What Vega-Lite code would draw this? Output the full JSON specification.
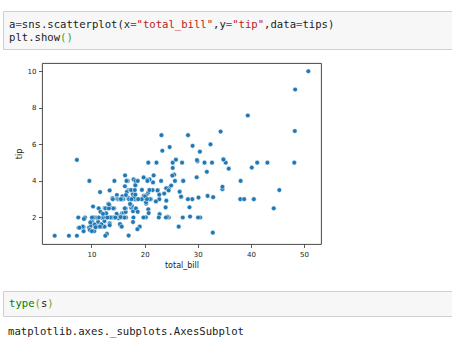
{
  "$schema": "https://vega.github.io/schema/vega-lite/v6.json",
  "background": "white",
  "padding": {"left": 2, "top": 10, "right": 0, "bottom": 0},
  "config": {
    "font": "DejaVu Sans",
    "axis": {
      "domain": false, "grid": false, "tickColor": "#333333", "tickSize": 3.5, "tickWidth": 0.8,
      "labelFont": "DejaVu Sans", "labelFontSize": 7, "labelColor": "#222222", "labelPadding": 2.5,
      "titleFont": "DejaVu Sans", "titleFontSize": 8, "titleFontWeight": "normal", "titleColor": "#222222"
    }
  },
  "datasets": {
    "tips": [
      {"total_bill":16.99,"tip":1.01},{"total_bill":10.34,"tip":1.66},{"total_bill":21.01,"tip":3.5},{"total_bill":23.68,"tip":3.31},{"total_bill":24.59,"tip":3.61},
      {"total_bill":25.29,"tip":4.71},{"total_bill":8.77,"tip":2.0},{"total_bill":26.88,"tip":3.12},{"total_bill":15.04,"tip":1.96},{"total_bill":14.78,"tip":3.23},
      {"total_bill":10.27,"tip":1.71},{"total_bill":35.26,"tip":5.0},{"total_bill":15.42,"tip":1.57},{"total_bill":18.43,"tip":3.0},{"total_bill":14.83,"tip":3.02},
      {"total_bill":21.58,"tip":3.92},{"total_bill":10.33,"tip":1.67},{"total_bill":16.29,"tip":3.71},{"total_bill":16.97,"tip":3.5},{"total_bill":20.65,"tip":3.35},
      {"total_bill":17.92,"tip":4.08},{"total_bill":20.29,"tip":2.75},{"total_bill":15.77,"tip":2.23},{"total_bill":39.42,"tip":7.58},{"total_bill":19.82,"tip":3.18},
      {"total_bill":17.81,"tip":2.34},{"total_bill":13.37,"tip":2.0},{"total_bill":12.69,"tip":2.0},{"total_bill":21.7,"tip":4.3},{"total_bill":19.65,"tip":3.0},
      {"total_bill":9.55,"tip":1.45},{"total_bill":18.35,"tip":2.5},{"total_bill":15.06,"tip":3.0},{"total_bill":20.69,"tip":2.45},{"total_bill":17.78,"tip":3.27},
      {"total_bill":24.06,"tip":3.6},{"total_bill":16.31,"tip":2.0},{"total_bill":16.93,"tip":3.07},{"total_bill":18.69,"tip":2.31},{"total_bill":31.27,"tip":5.0},
      {"total_bill":16.04,"tip":2.24},{"total_bill":17.46,"tip":2.54},{"total_bill":13.94,"tip":3.06},{"total_bill":9.68,"tip":1.32},{"total_bill":30.4,"tip":5.6},
      {"total_bill":18.29,"tip":3.0},{"total_bill":22.23,"tip":5.0},{"total_bill":32.4,"tip":6.0},{"total_bill":28.55,"tip":2.05},{"total_bill":18.04,"tip":3.0},
      {"total_bill":12.54,"tip":2.5},{"total_bill":10.29,"tip":2.6},{"total_bill":34.81,"tip":5.2},{"total_bill":9.94,"tip":1.56},{"total_bill":25.56,"tip":4.34},
      {"total_bill":19.49,"tip":3.51},{"total_bill":38.01,"tip":3.0},{"total_bill":26.41,"tip":1.5},{"total_bill":11.24,"tip":1.76},{"total_bill":48.27,"tip":6.73},
      {"total_bill":20.29,"tip":3.21},{"total_bill":13.81,"tip":2.0},{"total_bill":11.02,"tip":1.98},{"total_bill":18.29,"tip":3.76},{"total_bill":17.59,"tip":2.64},
      {"total_bill":20.08,"tip":3.15},{"total_bill":16.45,"tip":2.47},{"total_bill":3.07,"tip":1.0},{"total_bill":20.23,"tip":2.01},{"total_bill":15.01,"tip":2.09},
      {"total_bill":12.02,"tip":1.97},{"total_bill":17.07,"tip":3.0},{"total_bill":26.86,"tip":3.14},{"total_bill":25.28,"tip":5.0},{"total_bill":14.73,"tip":2.2},
      {"total_bill":10.51,"tip":1.25},{"total_bill":17.92,"tip":3.08},{"total_bill":27.2,"tip":4.0},{"total_bill":22.76,"tip":3.0},{"total_bill":17.29,"tip":2.71},
      {"total_bill":19.44,"tip":3.0},{"total_bill":16.66,"tip":3.4},{"total_bill":10.07,"tip":1.83},{"total_bill":32.68,"tip":5.0},{"total_bill":15.98,"tip":2.03},
      {"total_bill":34.83,"tip":5.17},{"total_bill":13.03,"tip":2.0},{"total_bill":18.28,"tip":4.0},{"total_bill":24.71,"tip":5.85},{"total_bill":21.16,"tip":3.0},
      {"total_bill":28.97,"tip":3.0},{"total_bill":22.49,"tip":3.5},{"total_bill":5.75,"tip":1.0},{"total_bill":16.32,"tip":4.3},{"total_bill":22.75,"tip":3.25},
      {"total_bill":40.17,"tip":4.73},{"total_bill":27.28,"tip":4.0},{"total_bill":12.03,"tip":1.5},{"total_bill":21.01,"tip":3.0},{"total_bill":12.46,"tip":1.5},
      {"total_bill":11.35,"tip":2.5},{"total_bill":15.38,"tip":3.0},{"total_bill":44.3,"tip":2.5},{"total_bill":22.42,"tip":3.48},{"total_bill":20.92,"tip":4.08},
      {"total_bill":15.36,"tip":1.64},{"total_bill":20.49,"tip":4.06},{"total_bill":25.21,"tip":4.29},{"total_bill":18.24,"tip":3.76},{"total_bill":14.31,"tip":4.0},
      {"total_bill":14.0,"tip":3.0},{"total_bill":7.25,"tip":1.0},{"total_bill":38.07,"tip":4.0},{"total_bill":23.95,"tip":2.55},{"total_bill":25.71,"tip":4.0},
      {"total_bill":17.31,"tip":3.5},{"total_bill":29.93,"tip":5.07},{"total_bill":10.65,"tip":1.5},{"total_bill":12.43,"tip":1.8},{"total_bill":24.08,"tip":2.92},
      {"total_bill":11.69,"tip":2.31},{"total_bill":13.42,"tip":1.68},{"total_bill":14.26,"tip":2.5},{"total_bill":15.95,"tip":2.0},{"total_bill":12.48,"tip":2.52},
      {"total_bill":29.8,"tip":4.2},{"total_bill":8.52,"tip":1.48},{"total_bill":14.52,"tip":2.0},{"total_bill":11.38,"tip":2.0},{"total_bill":22.82,"tip":2.18},
      {"total_bill":19.08,"tip":1.5},{"total_bill":20.27,"tip":2.83},{"total_bill":11.17,"tip":1.5},{"total_bill":12.26,"tip":2.0},{"total_bill":18.26,"tip":3.25},
      {"total_bill":8.51,"tip":1.25},{"total_bill":10.33,"tip":2.0},{"total_bill":14.15,"tip":2.0},{"total_bill":16.0,"tip":2.0},{"total_bill":13.16,"tip":2.75},
      {"total_bill":17.47,"tip":3.5},{"total_bill":34.3,"tip":6.7},{"total_bill":41.19,"tip":5.0},{"total_bill":27.05,"tip":5.0},{"total_bill":16.43,"tip":2.3},
      {"total_bill":8.35,"tip":1.5},{"total_bill":18.64,"tip":1.36},{"total_bill":11.87,"tip":1.63},{"total_bill":9.78,"tip":1.73},{"total_bill":7.51,"tip":2.0},
      {"total_bill":14.07,"tip":2.5},{"total_bill":13.13,"tip":2.0},{"total_bill":17.26,"tip":2.74},{"total_bill":24.55,"tip":2.0},{"total_bill":19.77,"tip":2.0},
      {"total_bill":29.85,"tip":5.14},{"total_bill":48.17,"tip":5.0},{"total_bill":25.0,"tip":3.75},{"total_bill":13.39,"tip":2.61},{"total_bill":16.49,"tip":2.0},
      {"total_bill":21.5,"tip":3.5},{"total_bill":12.66,"tip":2.5},{"total_bill":16.21,"tip":2.0},{"total_bill":13.81,"tip":2.0},{"total_bill":17.51,"tip":3.0},
      {"total_bill":24.52,"tip":3.48},{"total_bill":20.76,"tip":2.24},{"total_bill":31.71,"tip":4.5},{"total_bill":10.59,"tip":1.61},{"total_bill":10.63,"tip":2.0},
      {"total_bill":50.81,"tip":10.0},{"total_bill":15.81,"tip":3.16},{"total_bill":7.25,"tip":5.15},{"total_bill":31.85,"tip":3.18},{"total_bill":16.82,"tip":4.0},
      {"total_bill":32.9,"tip":3.11},{"total_bill":17.89,"tip":2.0},{"total_bill":14.48,"tip":2.0},{"total_bill":9.6,"tip":4.0},{"total_bill":34.63,"tip":3.55},
      {"total_bill":34.65,"tip":3.68},{"total_bill":23.33,"tip":5.65},{"total_bill":45.35,"tip":3.5},{"total_bill":23.17,"tip":6.5},{"total_bill":40.55,"tip":3.0},
      {"total_bill":20.69,"tip":5.0},{"total_bill":20.9,"tip":3.5},{"total_bill":30.46,"tip":2.0},{"total_bill":18.15,"tip":3.5},{"total_bill":23.1,"tip":4.0},
      {"total_bill":15.69,"tip":1.5},{"total_bill":19.81,"tip":4.19},{"total_bill":28.44,"tip":2.56},{"total_bill":15.48,"tip":2.02},{"total_bill":16.58,"tip":4.0},
      {"total_bill":7.56,"tip":1.44},{"total_bill":10.34,"tip":2.0},{"total_bill":43.11,"tip":5.0},{"total_bill":13.0,"tip":2.0},{"total_bill":13.51,"tip":2.0},
      {"total_bill":18.71,"tip":4.0},{"total_bill":12.74,"tip":2.01},{"total_bill":13.0,"tip":2.0},{"total_bill":16.4,"tip":2.5},{"total_bill":20.53,"tip":4.0},
      {"total_bill":16.47,"tip":3.23},{"total_bill":26.59,"tip":3.41},{"total_bill":38.73,"tip":3.0},{"total_bill":24.27,"tip":2.03},{"total_bill":12.76,"tip":2.23},
      {"total_bill":30.06,"tip":2.0},{"total_bill":25.89,"tip":5.16},{"total_bill":48.33,"tip":9.0},{"total_bill":13.27,"tip":2.5},{"total_bill":28.17,"tip":6.5},
      {"total_bill":12.9,"tip":1.1},{"total_bill":28.15,"tip":3.0},{"total_bill":11.59,"tip":1.5},{"total_bill":7.74,"tip":1.44},{"total_bill":30.14,"tip":3.09},
      {"total_bill":12.16,"tip":2.2},{"total_bill":13.42,"tip":3.48},{"total_bill":8.58,"tip":1.92},{"total_bill":15.98,"tip":3.0},{"total_bill":13.42,"tip":1.58},
      {"total_bill":16.27,"tip":2.5},{"total_bill":10.09,"tip":2.0},{"total_bill":20.45,"tip":3.0},{"total_bill":13.28,"tip":2.72},{"total_bill":22.12,"tip":2.88},
      {"total_bill":24.01,"tip":2.0},{"total_bill":15.69,"tip":3.0},{"total_bill":11.61,"tip":3.39},{"total_bill":10.77,"tip":1.47},{"total_bill":15.53,"tip":3.0},
      {"total_bill":10.07,"tip":1.25},{"total_bill":12.6,"tip":1.0},{"total_bill":32.83,"tip":1.17},{"total_bill":35.83,"tip":4.67},{"total_bill":29.03,"tip":5.92},
      {"total_bill":27.18,"tip":2.0},{"total_bill":22.67,"tip":2.0},{"total_bill":17.82,"tip":1.75},{"total_bill":18.78,"tip":3.0}
    ]
  },
  "resolve": {"scale": {"x": "independent", "y": "independent", "color": "independent"}},
  "columns": 1,
  "spacing": 20,
  "concat": [
    {
      "columns": 1,
      "spacing": 12,
      "resolve": {"scale": {"x": "independent", "y": "independent", "color": "independent"}},
      "concat": [
        {
          "width": 450, "height": 38,
          "view": {"fill": "#f7f7f7", "stroke": "#cfcfcf"},
          "data": {"values": [
            {"line": 1, "token": "plain", "code": "a\u00a0sns.scatterplot(x\u00a0\u00a0\u00a0\u00a0\u00a0\u00a0\u00a0\u00a0\u00a0\u00a0\u00a0\u00a0\u00a0,y\u00a0\u00a0\u00a0\u00a0\u00a0\u00a0,data\u00a0tips)"},
            {"line": 1, "token": "operator", "code": "\u2060\u00a0=\u00a0\u00a0\u00a0\u00a0\u00a0\u00a0\u00a0\u00a0\u00a0\u00a0\u00a0\u00a0\u00a0\u00a0\u00a0\u00a0\u00a0=\u00a0\u00a0\u00a0\u00a0\u00a0\u00a0\u00a0\u00a0\u00a0\u00a0\u00a0\u00a0\u00a0\u00a0=\u00a0\u00a0\u00a0\u00a0\u00a0\u00a0\u00a0\u00a0\u00a0\u00a0="},
            {"line": 1, "token": "string", "code": "\u2060\u00a0\u00a0\u00a0\u00a0\u00a0\u00a0\u00a0\u00a0\u00a0\u00a0\u00a0\u00a0\u00a0\u00a0\u00a0\u00a0\u00a0\u00a0\u00a0\u00a0\"total_bill\"\u00a0\u00a0\u00a0\"tip\""},
            {"line": 2, "token": "plain", "code": "plt.show"},
            {"line": 2, "token": "bracket", "code": "\u2060\u00a0\u00a0\u00a0\u00a0\u00a0\u00a0\u00a0\u00a0()"}
          ]},
          "mark": {"type": "text", "align": "left", "baseline": "middle", "font": "DejaVu Sans Mono", "fontSize": 10.6, "dx": 6},
          "encoding": {
            "x": {"datum": 0, "type": "quantitative", "scale": {"domain": [0, 1]}, "axis": null},
            "y": {"field": "line", "type": "quantitative", "axis": null, "scale": {"domain": [-0.077, 2.846], "reverse": true, "nice": false, "zero": false}},
            "text": {"field": "code"},
            "color": {"field": "token", "type": "nominal", "legend": null,
              "scale": {"domain": ["plain", "operator", "string", "builtin", "bracket"], "range": ["#1a1a1a", "#aa22ff", "#ba2121", "#008000", "#33a02c"]}}
          }
        },
        {
          "spacing": 0,
          "hconcat": [
            {
              "width": 8, "height": 1,
              "view": {"stroke": null, "fill": null},
              "data": {"values": []},
              "mark": "text",
              "encoding": {}
            },
            {
              "width": 279, "height": 181,
              "view": {"stroke": "#333333", "strokeWidth": 0.9},
              "data": {"name": "tips"},
              "mark": {"type": "point", "filled": true, "size": 22, "opacity": 1, "stroke": "white", "strokeWidth": 0.5},
              "encoding": {
                "x": {"field": "total_bill", "type": "quantitative",
                  "scale": {"domain": [0.683, 53.197], "nice": false, "zero": false},
                  "axis": {"title": "total_bill", "values": [10, 20, 30, 40, 50], "titlePadding": 4}},
                "y": {"field": "tip", "type": "quantitative",
                  "scale": {"domain": [0.55, 10.45], "nice": false, "zero": false},
                  "axis": {"title": "tip", "values": [2, 4, 6, 8, 10], "minExtent": 30, "titlePadding": 0, "titleX": -19}},
                "color": {"value": "#1f77b4"}
              }
            }
          ]
        }
      ]
    },
    {
      "columns": 1,
      "spacing": 0,
      "resolve": {"scale": {"x": "independent", "y": "independent", "color": "independent"}},
      "concat": [
        {
          "width": 450, "height": 25,
          "view": {"fill": "#f7f7f7", "stroke": "#cfcfcf"},
          "data": {"values": [
            {"token": "builtin", "code": "type"},
            {"token": "bracket", "code": "\u2060\u00a0\u00a0\u00a0\u00a0(\u00a0)"},
            {"token": "plain", "code": "\u2060\u00a0\u00a0\u00a0\u00a0\u00a0s"}
          ]},
          "mark": {"type": "text", "align": "left", "baseline": "middle", "font": "DejaVu Sans Mono", "fontSize": 10.6, "dx": 6},
          "encoding": {
            "x": {"datum": 0, "type": "quantitative", "scale": {"domain": [0, 1]}, "axis": null},
            "text": {"field": "code"},
            "color": {"field": "token", "type": "nominal", "legend": null,
              "scale": {"domain": ["plain", "operator", "string", "builtin", "bracket"], "range": ["#1a1a1a", "#aa22ff", "#ba2121", "#008000", "#7a9a10"]}}
          }
        },
        {
          "width": 450, "height": 22,
          "view": {"stroke": null, "fill": null},
          "data": {"values": [{"token": "plain", "code": "matplotlib.axes._subplots.AxesSubplot"}]},
          "mark": {"type": "text", "align": "left", "baseline": "middle", "font": "DejaVu Sans Mono", "fontSize": 10.6, "dx": 5, "dy": 4, "color": "#1a1a1a"},
          "encoding": {
            "x": {"datum": 0, "type": "quantitative", "scale": {"domain": [0, 1]}, "axis": null},
            "text": {"field": "code"}
          }
        }
      ]
    }
  ]
}
